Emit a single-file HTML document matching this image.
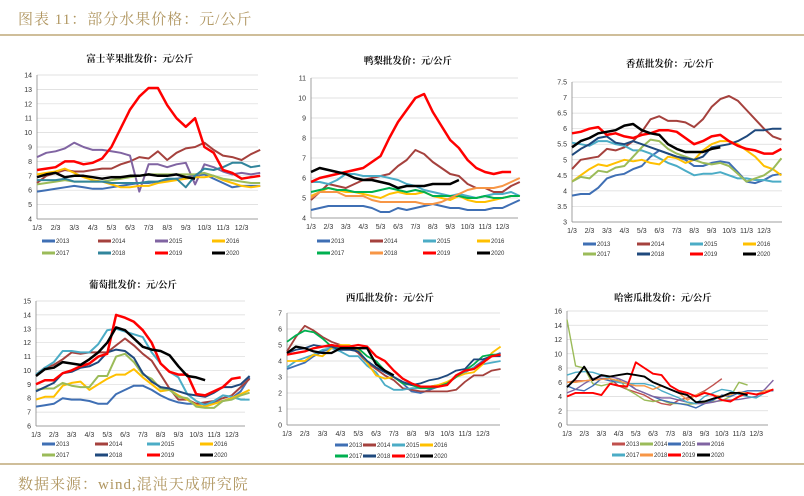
<!DOCTYPE html>
<html><head><meta charset="utf-8">
<style>
html,body{margin:0;padding:0;background:#fff;}
svg{display:block;font-family:"Liberation Sans","Noto Sans CJK SC",sans-serif;}
.tk{font-size:7px;fill:#333;}
.tt{font-size:9.5px;font-weight:bold;fill:#111;font-family:"Liberation Serif","Noto Serif CJK SC",serif;}
.lg{font-size:6px;fill:#333;}
</style></head>
<body>
<svg id="root" width="804" height="496" viewBox="0 0 804 496">
<text x="18" y="24" font-size="15" fill="#b09660" font-family="'Liberation Serif','Noto Serif CJK SC',serif" letter-spacing="1">图表 11：部分水果价格：元/公斤</text>
<line x1="0" y1="35" x2="804" y2="35" stroke="#bfa878" stroke-width="1.5"/>
<line x1="0" y1="464" x2="804" y2="464" stroke="#bfa878" stroke-width="1.5"/>
<text x="18" y="489" font-size="15" fill="#b09660" font-family="'Liberation Serif','Noto Serif CJK SC',serif" letter-spacing="1">数据来源：wind,混沌天成研究院</text>
</svg>
<script>
const monthLabels=['1/3','2/3','3/3','4/3','5/3','6/3','7/3','8/3','9/3','10/3','11/3','12/3'];
const years=['2013','2014','2015','2016','2017','2018','2019','2020'];

// Apple
const apple2013=[5.9,6.0,6.1,6.2,6.3,6.2,6.1,6.1,6.2,6.3,6.4,6.5,6.5,6.6,6.7,6.8,6.9,7.0,7.1,6.8,6.5,6.2,6.3,6.3,6.3];
const apple2014=[6.5,7.0,7.2,7.4,7.3,7.3,7.4,7.5,7.5,7.8,8.0,8.3,8.2,8.7,8.1,8.6,8.9,9.0,9.3,8.8,8.4,8.3,8.1,8.5,8.8];
const apple2015=[8.3,8.6,8.7,8.9,9.3,9.0,8.8,8.8,8.7,8.6,8.4,5.9,7.8,7.8,7.6,7.8,7.9,6.4,7.8,7.6,7.3,7.1,7.2,7.1,7.2];
const apple2016=[7.1,7.2,7.3,7.5,7.2,6.9,6.7,6.6,6.4,6.2,6.2,6.3,6.3,6.5,6.6,6.7,6.8,6.9,6.9,7.0,6.7,6.5,6.3,6.2,6.3];
const apple2017=[6.4,6.5,6.6,6.7,6.6,6.6,6.6,6.6,6.7,6.8,6.9,7.0,7.1,7.1,7.1,7.1,7.1,7.1,7.2,7.0,6.8,6.7,6.6,6.5,6.5];
const apple2018=[6.7,6.7,6.7,6.8,6.6,6.6,6.6,6.6,6.5,6.5,6.5,6.5,6.6,6.6,6.8,6.8,6.2,7.0,7.5,7.4,7.6,7.9,7.9,7.6,7.7];
const apple2019=[7.4,7.5,7.6,8.0,8.0,7.8,7.9,8.2,9.0,10.3,11.6,12.5,13.1,13.1,11.9,11.0,10.4,11.0,9.0,8.6,7.4,7.2,6.8,6.9,7.0];
const apple2020=[6.9,7.1,7.2,6.9,7.0,7.0,6.9,6.8,6.9,6.9,7.0,7.0,7.1,7.0,7.0,7.1,6.9,6.8];

// Pear
const pear2013=[4.4,4.5,4.6,4.6,4.6,4.6,4.6,4.5,4.3,4.3,4.5,4.4,4.5,4.6,4.7,4.6,4.5,4.5,4.4,4.4,4.4,4.5,4.5,4.7,4.9];
const pear2014=[4.9,5.3,5.7,5.6,5.5,5.7,5.9,6.0,6.1,6.2,6.6,6.9,7.4,7.2,6.8,6.5,6.2,6.1,5.7,5.5,5.5,5.3,5.3,5.6,5.8];
const pear2015=[5.8,5.8,5.7,5.9,6.2,6.2,6.1,6.1,6.1,6.0,5.9,5.7,5.6,5.4,5.3,5.2,5.1,5.2,5.1,5.0,5.1,5.2,5.2,5.3,5.1];
const pear2016=[5.1,5.3,5.5,5.4,5.3,5.3,5.2,5.1,5.0,5.2,5.3,5.2,5.2,5.3,5.1,5.0,4.9,5.1,4.9,4.8,4.8,4.9,5.0,5.1,5.1];
const pear2017=[5.3,5.4,5.5,5.4,5.4,5.3,5.3,5.3,5.4,5.5,5.4,5.3,5.4,5.3,5.1,5.1,5.1,5.1,5.0,5.0,5.1,5.0,5.0,5.1,5.1];
const pear2018=[5.0,5.3,5.3,5.3,5.1,5.1,5.1,4.9,4.8,4.8,4.8,4.8,4.8,4.7,4.7,4.8,5.0,5.2,5.4,5.5,5.5,5.5,5.6,5.8,6.0];
const pear2019=[5.8,6.0,6.1,6.2,6.3,6.4,6.5,6.8,7.1,8.0,8.8,9.4,10.0,10.2,9.3,8.6,7.9,7.5,6.9,6.5,6.3,6.2,6.3,6.3];
const pear2020=[6.3,6.5,6.4,6.3,6.2,6.0,5.9,5.9,5.8,5.7,5.5,5.6,5.6,5.6,5.7,5.7,5.7,5.9];

// Banana
const banana2013=[3.85,3.9,3.9,4.1,4.4,4.5,4.55,4.7,4.8,5.1,5.3,5.2,5.1,5.0,4.8,4.8,4.9,4.95,4.9,4.6,4.3,4.25,4.35,4.5,4.55];
const banana2014=[4.7,5.0,5.05,5.1,5.35,5.3,5.4,5.6,5.9,6.3,6.4,6.25,6.25,6.2,6.05,6.3,6.7,6.95,7.05,6.9,6.6,6.3,6.0,5.75,5.65];
const banana2015=[5.55,5.5,5.45,5.6,5.6,5.5,5.45,5.3,5.3,5.2,5.05,4.9,4.8,4.65,4.5,4.55,4.55,4.6,4.5,4.4,4.4,4.35,4.35,4.3,4.3];
const banana2016=[4.3,4.5,4.7,4.85,4.8,4.9,5.0,4.95,5.0,4.9,4.85,5.1,5.05,4.9,5.0,5.3,5.5,5.6,5.6,5.5,5.3,5.1,4.8,4.7,4.5];
const banana2017=[4.3,4.45,4.4,4.65,4.6,4.75,4.8,5.1,5.4,5.65,5.6,5.35,5.2,5.1,5.0,4.9,4.85,4.9,4.8,4.55,4.3,4.4,4.5,4.7,5.05];
const banana2018=[5.15,5.35,5.5,5.7,5.75,5.55,5.5,5.6,5.5,5.4,5.3,5.2,5.1,5.05,5.0,5.1,5.4,5.45,5.5,5.6,5.75,5.95,5.95,6.0,6.0];
const banana2019=[5.85,5.9,6.0,6.05,5.8,5.85,5.75,5.7,5.8,5.85,5.95,5.95,5.9,5.7,5.5,5.6,5.75,5.8,5.6,5.45,5.35,5.3,5.2,5.2,5.35];
const banana2020=[5.4,5.6,5.7,5.85,5.9,5.95,6.1,6.15,5.95,5.85,5.8,5.5,5.35,5.25,5.25,5.25,5.35,5.4];

// Grape
const grape2013=[7.4,7.5,7.6,8.0,7.9,7.9,7.8,7.6,7.6,8.3,8.6,8.9,8.9,8.6,8.2,7.9,7.7,7.6,7.6,7.6,7.7,7.8,8.0,8.5,9.5];
const grape2014=[9.7,10.2,10.4,10.8,11.3,11.2,11.3,11.3,11.3,11.8,12.3,11.8,11.2,10.7,9.7,8.7,7.9,7.9,7.6,7.7,7.8,8.0,8.2,8.8,9.4];
const grape2015=[9.7,10.2,10.6,11.4,11.4,11.3,11.3,11.9,12.9,13.0,12.8,12.6,12.4,11.3,10.5,9.9,9.5,8.3,7.8,7.5,7.8,8.2,8.1,7.9,7.9];
const grape2016=[7.9,8.1,8.1,8.9,9.1,9.2,8.6,9.0,9.4,9.7,9.7,10.1,9.5,9.0,8.5,8.6,8.2,7.9,7.5,7.4,7.6,7.8,8.0,8.3,8.6];
const grape2017=[8.6,8.7,8.7,9.1,8.9,8.8,8.8,9.6,9.6,11.0,11.2,10.6,9.7,9.4,8.7,8.6,8.1,8.0,7.4,7.3,7.3,7.8,7.9,8.2,8.4];
const grape2018=[8.5,8.8,9.1,9.8,9.9,10.2,10.3,10.6,11.3,11.5,11.4,10.9,9.8,9.2,8.8,8.7,8.5,8.3,8.2,8.1,8.4,8.8,8.8,9.0,9.6];
const grape2019=[9.0,9.3,9.3,9.8,10.0,10.3,10.5,11.0,11.2,14.0,13.8,13.5,12.9,12.0,10.5,9.9,9.7,9.7,8.3,8.2,8.5,8.8,9.4,9.5];
const grape2020=[9.6,10.1,10.2,10.6,10.5,10.4,10.8,11.3,12.0,13.1,12.9,12.3,11.7,11.5,11.4,11.1,10.3,9.6,9.5,9.3];

// Watermelon
const melonW2013=[3.5,3.7,3.9,4.3,4.6,4.8,4.8,4.8,4.6,4.0,3.6,3.3,3.0,2.6,2.1,2.0,2.2,2.4,2.6,3.0,3.3,3.6,4.0,4.3,4.5];
const melonW2014=[4.6,5.5,6.2,5.9,5.5,5.2,5.0,4.9,4.5,3.9,3.5,3.1,2.8,2.3,2.2,2.1,2.1,2.1,2.1,2.2,2.7,3.1,3.1,3.4,3.5];
const melonW2015=[3.6,4.0,4.2,4.4,4.7,4.8,4.6,4.3,4.3,3.7,3.3,2.5,2.2,2.2,2.3,2.3,2.4,2.5,2.6,3.0,3.3,3.6,3.8,3.9,4.0];
const melonW2016=[4.0,4.0,4.0,4.4,4.3,4.8,5.0,5.0,4.7,3.9,3.1,2.9,3.0,2.6,2.5,2.4,2.4,2.5,2.7,3.0,3.2,3.3,3.8,4.5,4.9];
const melonW2017=[5.2,5.6,5.9,5.8,5.4,4.9,4.8,4.8,4.8,4.3,4.0,3.4,3.0,2.6,2.5,2.3,2.3,2.4,2.6,3.0,3.4,3.8,4.3,4.4,4.4];
const melonW2018=[4.5,4.7,4.8,5.0,4.9,4.9,4.7,4.7,4.6,4.0,3.6,3.3,3.0,2.7,2.5,2.6,2.8,2.9,3.1,3.4,3.5,4.1,4.1,4.3,4.3];
const melonW2019=[4.4,4.5,4.6,4.8,4.9,5.0,4.9,4.9,5.0,4.9,4.3,4.0,3.4,2.9,2.6,2.4,2.4,2.4,2.5,3.1,3.4,3.5,3.9,4.3,4.4];
const melonW2020=[4.5,4.9,4.8,4.6,4.5,4.5,4.8,4.8,4.8,4.8,3.8,3.4,3.1];

// Hami melon
const hami2013=[6.0,6.2,6.2,6.3,6.5,6.5,5.5,5.0,4.6,4.2,3.5,3.0,2.8,3.5,3.8,4.2,4.8,5.6,6.5];
const hami2014=[14.8,8.3,8.0,5.8,5.5,5.8,6.5,5.0,4.3,3.5,3.3,3.5,3.0,3.0,2.9,3.0,3.2,3.3,3.4,4.0,6.0,5.6];
const hami2015=[5.5,5.0,4.8,5.5,6.5,6.2,6.0,5.8,5.0,4.5,4.0,3.5,3.2,3.0,2.8,2.4,3.0,3.5,4.2,4.0,4.5,4.8,4.8,4.8,4.8];
const hami2016=[4.5,5.0,5.8,6.5,6.8,6.8,6.5,6.0,5.0,4.5,4.0,3.8,3.8,3.5,3.2,3.0,3.0,3.2,3.5,3.5,3.6,3.8,4.0,5.0,6.3];
const hami2017=[7.0,7.4,7.5,7.4,7.0,6.5,6.0,5.8,5.8,5.8,5.5,4.8,4.3,3.8,3.2,3.0,4.0,4.5,5.0,4.8,4.3,4.0,3.8,4.5,5.0];
const hami2018=[6.0,6.0,6.2,6.3,6.4,6.5,6.2,5.8,5.5,5.5,5.0,5.5,5.0,4.5,3.5,4.2,4.6,4.2,4.0,4.3,4.6,4.5,4.3,4.8,5.0];
const hami2019=[4.0,4.5,4.5,4.5,4.2,5.8,5.5,5.4,8.8,8.0,7.2,7.0,5.5,4.8,4.5,4.0,4.5,4.2,3.5,3.3,4.0,4.5,4.3,4.5,5.0];
const hami2020=[5.3,6.5,8.2,6.3,7.0,6.8,7.0,7.2,7.0,6.8,6.0,5.5,5.0,4.5,4.2,3.2,3.3,3.7,4.0,4.5,4.5,4.2];

const NS='http://www.w3.org/2000/svg';
const root=document.getElementById('root');
function el(tag,attrs,parent){const e=document.createElementNS(NS,tag);for(const k in attrs)e.setAttribute(k,attrs[k]);(parent||root).appendChild(e);return e;}

const C={b:'#3f6fb4',r:'#a5413d',p:'#8064a2',y:'#ffc000',g:'#9bbb59',t:'#31859c',red:'#ff0000',k:'#000000',lb:'#4bacc6',gr:'#00b050',o:'#f79646',n:'#1f497d',rr:'#c0504d'};

const charts=[
 {name:'apple',title:'富士苹果批发价：元/公斤',tx:140,ty:62,x0:37,step:18.6,right:258,yt:75,yb:219,vmax:14,vmin:4,tstep:1,dec:0,
  series:[apple2013,apple2014,apple2015,apple2016,apple2017,apple2018,apple2019,apple2020],
  colors:[C.b,C.r,C.p,C.y,C.g,C.t,C.red,C.k],lc:[42,98,155,212],lr:[241,253],lw:2},
 {name:'pear',title:'鸭梨批发价：元/公斤',tx:408,ty:64,x0:311,step:17.4,right:518,yt:78,yb:218,vmax:11,vmin:4,tstep:1,dec:0,
  series:[pear2013,pear2014,pear2015,pear2016,pear2017,pear2018,pear2019,pear2020],
  colors:[C.b,C.r,C.lb,C.y,C.gr,C.o,C.red,C.k],lc:[317,370,423,477],lr:[241,253],lw:2},
 {name:'banana',title:'香蕉批发价：元/公斤',tx:670,ty:67,x0:572,step:17.45,right:782,yt:82,yb:222,vmax:7.5,vmin:3,tstep:0.5,dec:1,
  series:[banana2013,banana2014,banana2015,banana2016,banana2017,banana2018,banana2019,banana2020],
  colors:[C.b,C.r,C.lb,C.y,C.g,C.n,C.red,C.k],lc:[583,637,690,743],lr:[244,254],lw:2},
 {name:'grape',title:'葡萄批发价：元/公斤',tx:133,ty:288,x0:36,step:17.8,right:245,yt:301,yb:426,vmax:15,vmin:6,tstep:1,dec:0,
  series:[grape2013,grape2014,grape2015,grape2016,grape2017,grape2018,grape2019,grape2020],
  colors:[C.b,C.r,C.lb,C.y,C.g,C.n,C.red,C.k],lc:[42,95,147,200],lr:[444,455],lw:2},
 {name:'watermelon',title:'西瓜批发价：元/公斤',tx:390,ty:301,x0:287,step:17.8,right:500,yt:313,yb:425,vmax:7,vmin:0,tstep:1,dec:0,
  series:[melonW2013,melonW2014,melonW2015,melonW2016,melonW2017,melonW2018,melonW2019,melonW2020],
  colors:[C.b,C.r,C.lb,C.y,C.gr,C.n,C.red,C.k],lc:[335,363,392,420],lr:[445,456],lw:1.8},
 {name:'hami-melon',title:'哈密瓜批发价：元/公斤',tx:663,ty:301,x0:567,step:17.2,right:768,yt:311,yb:425,vmax:16,vmin:0,tstep:2,dec:0,
  series:[hami2013,hami2014,hami2015,hami2016,hami2017,hami2018,hami2019,hami2020],
  colors:[C.rr,C.g,C.b,C.p,C.lb,C.o,C.red,C.k],lc:[612,640,668,697],lr:[444,455],lw:1.4}
];

charts.forEach(c=>{
 const g=el('g',{});
 
 
 const X=m=>c.x0+m*c.step;
 const Y=v=>c.yb-(v-c.vmin)/(c.vmax-c.vmin)*(c.yb-c.yt);
 const t=el('text',{x:c.tx,y:c.ty,'text-anchor':'middle',class:'tt'},g);t.textContent=c.title;
 
 
 for(let v=c.vmin;v<=c.vmax+1e-9;v+=c.tstep){
  const gl=el('line',{x1:c.x0,x2:c.right,y1:Y(v),y2:Y(v),stroke:'#d9d9d9','stroke-width':0.7},g);
  
  
  const tl=el('text',{x:c.x0-5,y:Y(v)+2.5,'text-anchor':'end',class:'tk'},g);
  tl.textContent=c.dec?(Math.abs(v-Math.round(v))<1e-9?String(Math.round(v)):v.toFixed(1)):String(Math.round(v));
  
  
 }
 const ax=el('line',{x1:c.x0,x2:c.x0,y1:c.yt,y2:c.yb,stroke:'#888','stroke-width':0.8},g);
 
 
 const bx=el('line',{x1:c.x0,x2:c.right,y1:c.yb,y2:c.yb,stroke:'#888','stroke-width':0.8},g);
 
 
 monthLabels.forEach((lab,i)=>{
  const tl=el('text',{x:X(i),y:c.yb+11,'text-anchor':'middle',class:'tk'},g);tl.textContent=lab;
  
  
 });
 c.series.forEach((arr,s)=>{
  const d=arr.map((v,i)=>(i?'L':'M')+X(i*0.5).toFixed(1)+','+Y(v).toFixed(1)).join(' ');
  const w=(s>=6)?c.lw+0.5:c.lw;
  const p=el('path',{d:d,fill:'none',stroke:c.colors[s],'stroke-width':w,'stroke-linejoin':'round'},g);
  
  
  const lx=c.lc[s%4],ly=c.lr[Math.floor(s/4)];
  const lg=el('g',{},g);
  
  
  el('line',{x1:lx,x2:lx+13,y1:ly,y2:ly,stroke:c.colors[s],'stroke-width':3},lg);
  const lt=el('text',{x:lx+14,y:ly+2.2,class:'lg'},lg);lt.textContent=years[s];
 });
});
</script>
</body></html>
